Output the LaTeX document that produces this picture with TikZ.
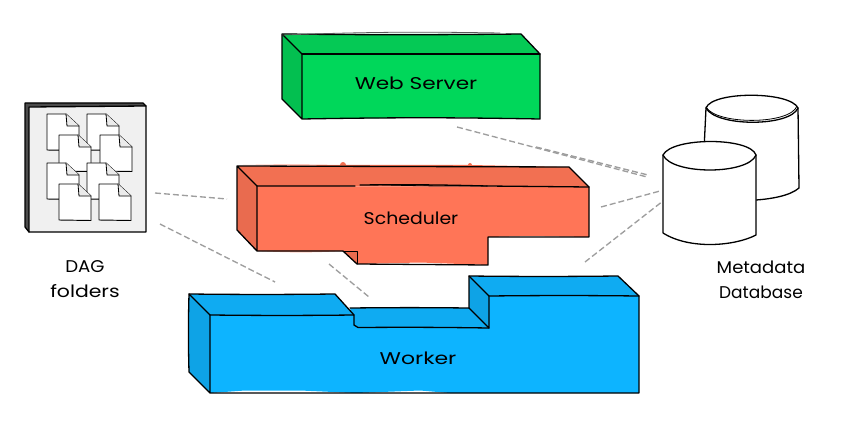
\documentclass[tikz,border=0pt]{standalone}
\usepackage{fontspec}
\setmainfont{Poppins}
\newcommand{\wdfit}[2]{\scalebox{#1}[1]{#2}}
\tikzset{
  outline/.style={draw=black,line width=1.3pt,line join=round,line cap=round},
  thin outline/.style={draw=black,line width=.8pt,line join=round,line cap=round},
  link/.style={draw=black!38,line width=1.35pt,dash pattern=on 6pt off 3pt},
  lbl/.style={font=\fontsize{17}{25}\selectfont,align=center,text=black,inner sep=0pt},
  dagfile/.pic={
    \path[fill=white] (0,0) -- (19,0) -- (32,12) -- (32,36) -- (0,36) -- cycle;
    \draw[thin outline,line width=.95pt] (0,0) -- (19,0) -- (32,12) -- (32,36.5) -- (0,36) -- cycle;
    \draw[thin outline,fill=black!8] (19,0) -- (20,12) -- (32,12);
  }
}
\definecolor{webF}{HTML}{00D75A}\definecolor{webT}{HTML}{05C955}\definecolor{webS}{HTML}{03BF50}
\definecolor{schF}{HTML}{FF7557}\definecolor{schT}{HTML}{F27052}\definecolor{schS}{HTML}{E96B4F}
\definecolor{wrkF}{HTML}{0DB4FF}\definecolor{wrkT}{HTML}{0FABF2}\definecolor{wrkS}{HTML}{0EA3E6}
\begin{document}
\begin{tikzpicture}[x=1pt,y=-1pt]
\useasboundingbox (0,0) rectangle (842,422);
% ---------- connector ends
\coordinate (w1) at (457,127); \coordinate (d1) at (647,177);
\coordinate (w2) at (536,147); \coordinate (d2) at (648,175);
\coordinate (s1) at (601,207); \coordinate (d3) at (660,191);
\coordinate (k1) at (585,262); \coordinate (d4) at (663,201);
\coordinate (f1) at (155,193); \coordinate (s2) at (227,199);
\coordinate (f2) at (160,224); \coordinate (k2) at (275,282);
\coordinate (s3) at (329,264); \coordinate (k3) at (369,297);
\draw[link] (w1) -- (d1);
\draw[link] (w2) -- (d2);
\draw[link] (s1) -- (d3);
\draw[link] (k1) -- (d4);
\draw[link] (f1) -- (s2);
\draw[link] (f2) -- (k2);
\draw[link] (s3) -- (k3);
% ---------- Web Server
\fill[webS] (282,34) -- (302,54) -- (302,119) -- (282,99) -- cycle;
\fill[webT] (282,34) -- (521,34) -- (540,54) -- (302,54) -- cycle;
\fill[webF] (302,54) -- (540,54) -- (540,119) -- (456,117.5) -- (302,119) -- cycle;
\draw[outline] (282,34) to[bend right=.6] (521,34) -- (540,54) -- (540,119) to[bend right=1] (302,119) -- (282,99) -- (282,34) -- (302,54) -- (302,119);
\draw[outline] (302,54) -- (540,54);
\draw[thin outline,black!65] (282,35) to[bend left=1.5] (500,33);
\node[lbl] (web) at (416,83) {\wdfit{1.27}{Web Server}};
% ---------- Scheduler
\fill[schF,opacity=.6] (243,165) to[bend left=1.2] (340,165) -- cycle;
\fill[schF,opacity=.6] (257,251) to[bend right=3] (345,251) -- cycle;
\fill[schS] (237,166) -- (257,186) -- (257,251) -- (237,230) -- cycle;
\fill[schT] (237,166) -- (343,165) -- (470,165) -- (569,167) -- (589,187) -- (257,186) -- cycle;
\fill[schF] (257,186) -- (589,187) -- (589,237) -- (530,236) -- (488,237) -- (488,265) -- (420,262.5) -- (357,264) -- (357,251) -- (257,251) -- cycle;
\fill[schS] (343,251) -- (357,251) -- (357,264) -- cycle;
\fill[schT] (343,165) circle (3pt) (470,165) circle (2pt);
\draw[outline] (237,166) -- (569,167) -- (589,187) -- (589,237) -- (488,237) -- (488,265) -- (357,264) -- (343,251) -- (257,251) -- (237,230) -- (237,166) -- (257,186) -- (257,251);
\draw[outline] (257,186) -- (355,186) (487,186) -- (589,187);
\draw[outline] (360,185) to[bend left=1] (487,186);
\draw[thin outline] (370,184.5) to[bend right=1] (487,186);
\draw[thin outline] (343,251) -- (357,251) -- (357,264);
\node[lbl] (sched) at (411,218) {\wdfit{1.11}{Scheduler}};
% ---------- Worker
\fill[wrkS] (189,294) -- (210,315) -- (210,393) -- (189,372) -- cycle;
\fill[wrkT] (189,294) -- (335,294) -- (354,315) -- (210,315) -- cycle;
\fill[wrkT] (350,308) -- (469,308) -- (489,328) -- (354,327) -- cycle;
\fill[wrkS] (469,276) -- (489,296) -- (489,328) -- (469,308) -- cycle;
\fill[wrkT] (469,276) -- (618,276) -- (639,296) -- (489,296) -- cycle;
\fill[wrkF] (210,315) -- (354,315) -- (354,327) -- (489,328) -- (489,296) -- (639,296) -- (639,393) -- (450,393) -- (420,390.5) -- (356,393) -- (300,390.5) -- (245,390.5) -- (210,393) -- cycle;
\draw[outline] (189,294) to[bend right=.6] (335,294) -- (354,315);
\draw[outline] (210,315) to[bend right=.6] (354,315) -- (354,325) -- (358,327.5) to[bend left=.6] (489,328);
\draw[outline] (350,308) to[bend left=.6] (469,308) -- (489,328) -- (489,296);
\draw[outline] (469,308) -- (469,276) to[bend right=.6] (618,276) -- (639,296) -- (639,393) -- (210,393) -- (189,372) to[bend left=1.5] (189,294) -- (210,315) -- (210,393);
\draw[outline] (469,276) -- (489,296) to[bend left=.6] (639,296);
\node[lbl] (work) at (418,358) {\wdfit{1.29}{Worker}};
% ---------- DAG folder
\fill[black!70] (25,103) -- (143,103) -- (146,106) -- (29,107) -- (29,232) -- (25,227) -- cycle;
\fill[black!6] (29,107) -- (146,106) -- (146,232) -- (29,232) -- cycle;
\draw[outline] (25,103) -- (143,103) -- (146,106) -- (146,232) -- (29,232) -- (25,227) -- cycle;
\draw[outline] (29,107) -- (146,106) (29,107) -- (29,232);
\foreach \px/\py in {47/114,87/114,59/135,100/135,47/163,87/163,59/184,99/184}
  \pic at (\px,\py) {dagfile};
\node[lbl] (dag) at (85,279.5) {\wdfit{1.07}{DAG}\\\wdfit{1.2}{folders}};
% ---------- Metadata database
\path[fill=white] (706,108) .. controls (712,91) and (790,91) .. (798,108) -- (799,188) .. controls (790,196) and (770,200) .. (740,200) -- (706,190) -- cycle;
\draw[outline] (704,150) -- (706,108) .. controls (712,91) and (790,91) .. (798,108) -- (799,188) .. controls (790,196) and (770,199) .. (756,200);
\draw[outline] (706,108) .. controls (716,127) and (790,127) .. (798,108);
\draw[thin outline] (706,107) .. controls (716,125) and (790,125) .. (797,106);
\path[fill=white] (663,155) .. controls (672,137) and (750,137) .. (756,155) -- (756,235) .. controls (735,246) and (690,250) .. (663,233) -- cycle;
\draw[outline] (663,155) .. controls (672,137) and (750,137) .. (756,155) -- (756,235) .. controls (735,246) and (690,250) .. (663,233) -- cycle;
\draw[outline] (663,155) .. controls (672,175) and (748,175) .. (756,155);
\node[lbl] (db) at (761,279.5) {\wdfit{1.06}{Metadata}\\Database};
\end{tikzpicture}
\end{document}
